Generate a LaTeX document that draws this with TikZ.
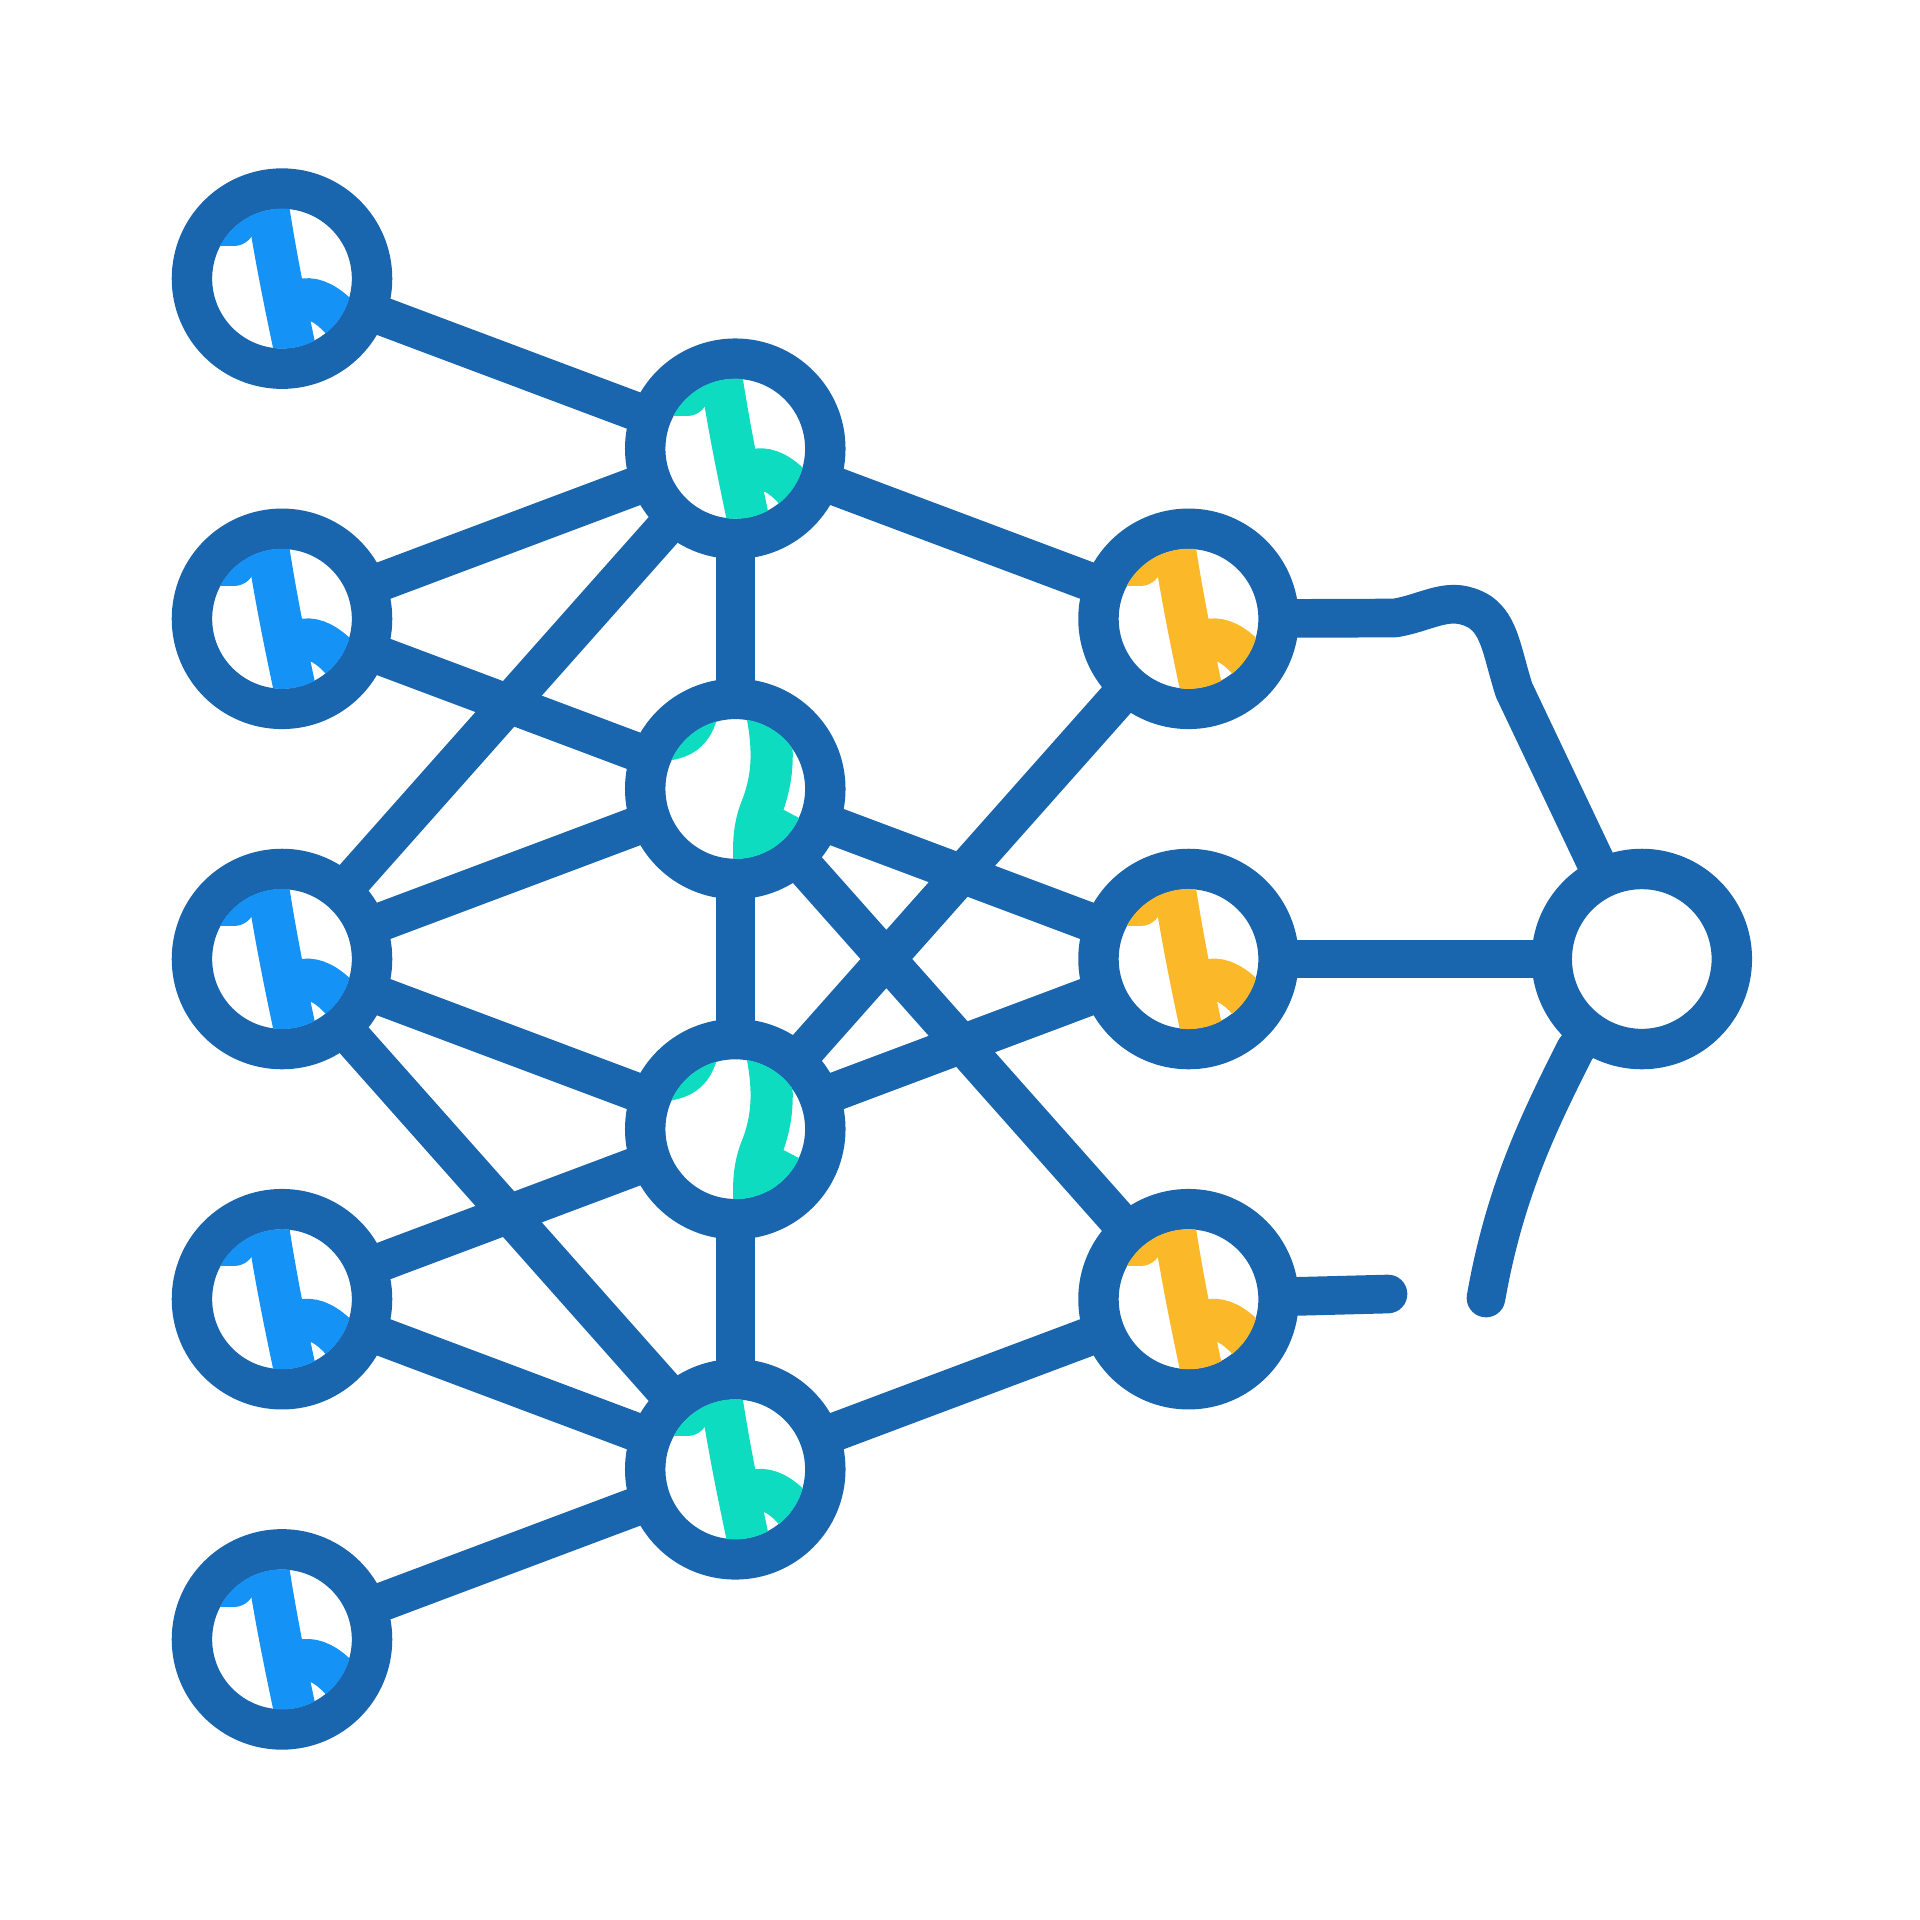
\documentclass[tikz,border=0pt]{standalone}
\usetikzlibrary{positioning,backgrounds}
\definecolor{netblue}{HTML}{1A66AE}
\definecolor{inblue}{HTML}{1592F5}
\definecolor{hidteal}{HTML}{0EDCC0}
\definecolor{outgold}{HTML}{FBB829}
\tikzset{
neuron/.style={circle,draw=netblue,fill=white,line width=11.5pt,minimum size=1.8cm,inner sep=0pt,outer sep=0pt},
link/.style={draw=netblue,line width=11pt,line cap=round,line join=round},
squig/.style={line width=12pt,line cap=round}
}
\newcommand{\sigcurve}[2]{%
\begin{scope}[shift={(#1.center)}]
\clip (0,0) circle (0.70cm);
\draw[squig,#2] (-90,-54) -- (-48,-54);
\draw[squig,#2] (-16,-85) .. controls (-8,-30) and (2,20) .. (16,85);
\draw[squig,#2] (6,32) .. controls (16,16) and (40,12) .. (70,54);
\end{scope}}
\newcommand{\tanhcurve}[2]{%
\begin{scope}[shift={(#1.center)}]
\clip (0,0) circle (0.70cm);
\draw[squig,#2] (-90,-48) .. controls (-55,-48) and (-40,-54) .. (-36,-90);
\draw[squig,#2] (30,-85) .. controls (40,-40) and (38,-10) .. (26,20) .. controls (18,40) and (18,60) .. (20,85);
\draw[squig,#2] (24,32) -- (66,54);
\end{scope}}

\begin{document}
\begin{tikzpicture}[x=0.01cm,y=-0.01cm,on grid]
\useasboundingbox (0,0) rectangle (1920,1920);
\node[neuron](x3) at (282,959) {};
\node[neuron,above=3.4cm of x3](x2) {};
\node[neuron,above=3.4cm of x2](x1) {};
\node[neuron,below=3.4cm of x3](x4) {};
\node[neuron,below=3.4cm of x4](x5) {};
\node[neuron,above right=1.7cm and 4.53cm of x3](h2) {};
\node[neuron,above=3.4cm of h2](h1) {};
\node[neuron,below=3.4cm of h2](h3) {};
\node[neuron,below=3.4cm of h3](h4) {};
\node[neuron,right=9.06cm of x3](y2) {};
\node[neuron,above=3.4cm of y2](y1) {};
\node[neuron,below=3.4cm of y2](y3) {};
\node[neuron,right=4.53cm of y2](out) {};
\coordinate (y3end) at (1388,1294);
\coordinate (outend) at (1486,1298);
\sigcurve{x1}{inblue}
\sigcurve{x2}{inblue}
\sigcurve{x3}{inblue}
\sigcurve{x4}{inblue}
\sigcurve{x5}{inblue}
\sigcurve{h1}{hidteal}
\tanhcurve{h2}{hidteal}
\tanhcurve{h3}{hidteal}
\sigcurve{h4}{hidteal}
\sigcurve{y1}{outgold}
\sigcurve{y2}{outgold}
\sigcurve{y3}{outgold}
\begin{scope}[on background layer]
\draw[link](x1)--(h1);
\draw[link](x2)--(h1);
\draw[link](x2)--(h2);
\draw[link](x3)--(h1);
\draw[link](x3)--(h2);
\draw[link](x3)--(h3);
\draw[link](x3)--(h4);
\draw[link](x4)--(h3);
\draw[link](x4)--(h4);
\draw[link](x5)--(h4);
\draw[link](h1)--(h2)--(h3)--(h4);
\draw[link](h1)--(y1);
\draw[link](h2)--(y2);
\draw[link](h2)--(y3);
\draw[link](h3)--(y1);
\draw[link](h3)--(y2);
\draw[link](h4)--(y3);
\draw[link](y1)--(1395,618) .. controls (1430,612) and (1450,594) .. (1480,612) .. controls (1500,626) and (1502,652) .. (1514,690)--(out);
\draw[link](y2)--(out);
\draw[link](y3)--(y3end);
\draw[link](out)--(1575,1050) .. controls (1540,1120) and (1505,1190) .. (outend);
\end{scope}
\end{tikzpicture}
\end{document}
